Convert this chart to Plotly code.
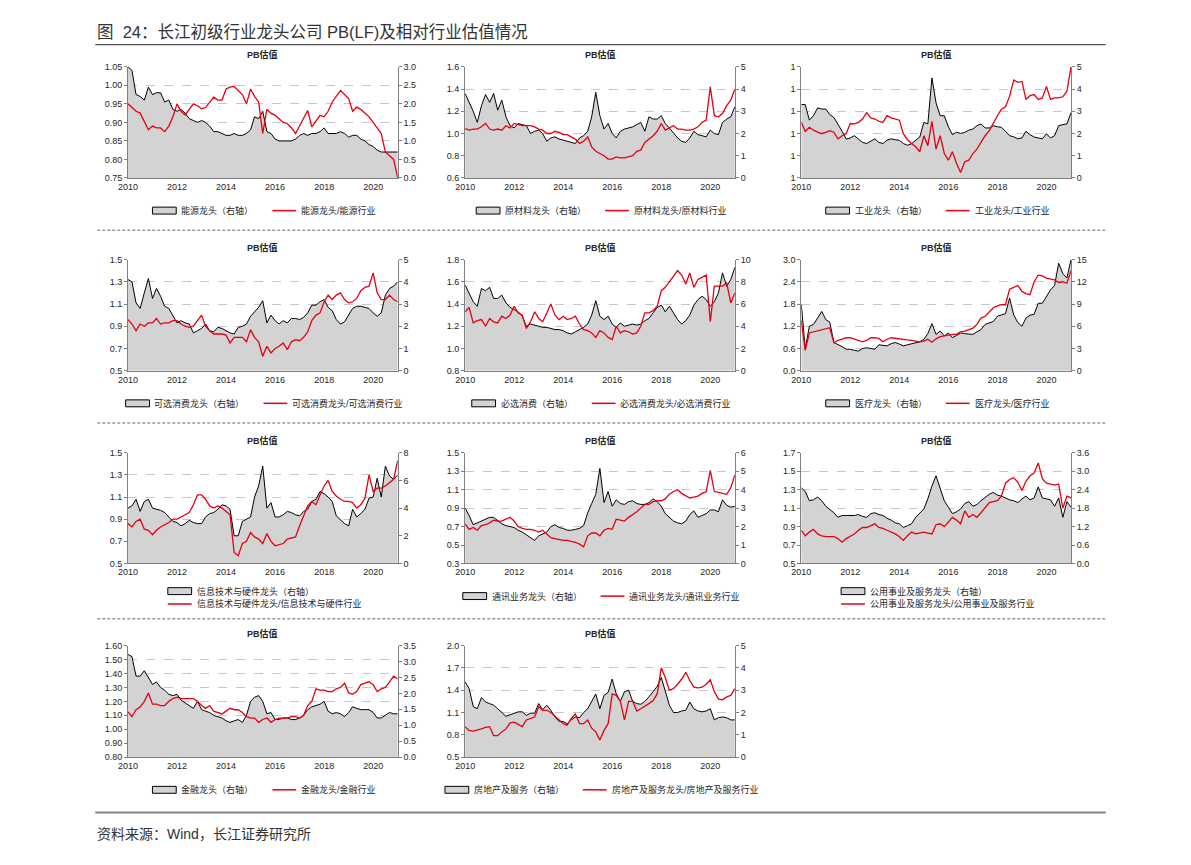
import plotly.graph_objects as go
import pandas as pd

W, H = 1191, 865
FONT = "Liberation Sans, Arial, Noto Sans CJK SC, sans-serif"

# ---------------- data (bi-monthly, 2010-01 .. 2021-01) ----------------
dates = pd.date_range("2010-01-01", periods=67, freq="2MS")
year_ticks = ["2010-01-01", "2012-01-01", "2014-01-01", "2016-01-01", "2018-01-01", "2020-01-01"]
year_labels = ["2010", "2012", "2014", "2016", "2018", "2020"]

# 1 能源
energy_leader = [3.0, 2.9, 2.25, 2.2, 2.1, 2.45,
                 2.25, 2.3, 2.3, 2.05, 2.1, 1.85,
                 1.8, 1.85, 1.75, 1.6, 1.55, 1.5,
                 1.55, 1.5, 1.4, 1.25, 1.25, 1.2,
                 1.15, 1.15, 1.2, 1.15, 1.15, 1.2,
                 1.3, 1.65, 1.6, 1.8, 1.25, 1.2,
                 1.05, 1.0, 1.0, 1.0, 1.0, 1.05,
                 1.15, 1.2, 1.15, 1.2, 1.2, 1.25,
                 1.35, 1.2, 1.2, 1.2, 1.25, 1.2,
                 1.1, 1.15, 1.15, 1.05, 1.0, 0.9,
                 0.85, 0.75, 0.7, 0.7, 0.7, 0.7,
                 0.7]
energy_rel = [0.95, 0.94, 0.93, 0.925, 0.9, 0.88,
              0.89, 0.885, 0.885, 0.875, 0.89, 0.915,
              0.95, 0.93, 0.92, 0.935, 0.95, 0.945,
              0.937, 0.94, 0.955, 0.968, 0.96, 0.96,
              0.99, 0.995, 0.997, 0.985, 0.975, 0.95,
              0.99, 0.97, 0.955, 0.87, 0.935, 0.925,
              0.919, 0.91, 0.9, 0.897, 0.885, 0.87,
              0.89, 0.91, 0.932, 0.888, 0.905, 0.919,
              0.915, 0.93, 0.955, 0.97, 0.986, 0.975,
              0.964, 0.93, 0.941, 0.935, 0.924, 0.915,
              0.9, 0.885, 0.87, 0.82, 0.81, 0.8,
              0.75]

# 2 原材料
materials_leader = [3.8, 3.4, 3.0, 2.5, 3.25, 3.75,
                    3.4, 3.8, 3.05, 3.5, 2.75, 2.35,
                    2.25, 2.45, 2.4, 2.35, 2.0, 2.1,
                    2.15, 2.0, 1.65, 1.8, 1.85, 1.75,
                    1.7, 1.65, 1.6, 1.55, 1.8, 1.9,
                    2.1, 2.75, 3.85, 2.8, 2.2, 2.45,
                    2.0, 1.8, 2.1, 2.2, 2.25, 2.3,
                    2.4, 2.5, 2.1, 2.75, 2.65, 2.65,
                    2.8, 2.45, 2.25, 2.0, 1.8, 1.65,
                    1.6, 1.8, 2.1, 1.95, 1.9, 1.85,
                    2.15, 2.0, 1.95, 2.5, 2.65, 2.75,
                    3.2]
materials_rel = [1.045, 1.03, 1.04, 1.04, 1.06, 1.09,
                 1.04, 1.03, 1.04, 1.03, 1.07, 1.05,
                 1.09, 1.08, 1.07, 1.07, 1.07, 1.06,
                 1.04, 1.03, 1.0, 1.0, 1.02, 1.01,
                 0.99, 0.99, 0.97, 0.95, 0.91, 0.93,
                 0.97, 0.88, 0.84, 0.82, 0.8, 0.77,
                 0.77, 0.79, 0.78, 0.78, 0.79, 0.8,
                 0.84, 0.85, 0.92, 0.95, 0.98, 1.02,
                 1.09, 1.03, 1.05, 1.07, 1.04, 1.04,
                 1.03, 1.03, 1.04, 1.06, 1.1, 1.12,
                 1.42, 1.16, 1.15, 1.18, 1.25, 1.3,
                 1.4]

# 3 工业
industrial_leader = [3.3, 3.3, 2.6, 2.8, 3.15, 3.1,
                     3.1, 2.85, 2.72, 2.43, 2.1, 1.75,
                     1.8, 1.9, 1.75, 1.6, 1.55, 1.65,
                     1.76, 1.6, 1.55, 1.7, 1.76, 1.72,
                     1.69, 1.55, 1.47, 1.54, 1.7, 1.84,
                     2.5, 2.43, 4.5, 3.38, 2.8, 2.8,
                     2.3, 1.95, 2.06, 2.0, 2.05, 2.15,
                     2.2, 2.35, 2.43, 2.25, 2.25, 2.35,
                     2.3, 2.28, 2.1, 1.9, 1.85, 1.76,
                     1.8, 2.1, 1.95, 1.84, 1.8, 1.76,
                     1.99, 1.8, 1.9, 2.35, 2.4, 2.43,
                     2.94]
industrial_rel = [2.5, 2.1, 2.28, 2.15, 2.06, 1.99,
                  2.05, 2.13, 2.06, 1.76, 1.9, 2.0,
                  2.45, 2.43, 2.5, 2.65, 2.94, 2.7,
                  2.65, 2.55, 2.5, 2.8, 2.7, 2.65,
                  2.6, 1.99, 1.72, 1.55, 1.4, 1.18,
                  1.9, 1.45, 2.55, 1.3, 1.9, 1.1,
                  0.8, 1.18, 0.66, 0.25, 0.73, 0.8,
                  1.1, 1.3, 1.6, 1.9, 2.13, 2.5,
                  2.8, 3.09, 3.2, 3.68, 4.41, 4.3,
                  4.34, 3.53, 3.7, 3.75, 3.53, 3.6,
                  4.12, 3.53, 3.6, 3.6, 3.65, 3.9,
                  5.0]

# 4 可选消费
discretionary_leader = [4.1, 4.0, 3.05, 2.8, 3.5, 4.15,
                        3.25, 3.7, 3.35, 2.9, 2.8, 2.5,
                        2.15, 2.25, 2.15, 2.1, 1.7, 1.8,
                        1.9, 2.1, 1.8, 1.75, 1.95, 1.9,
                        1.8, 1.7, 1.65, 1.95, 2.0, 2.1,
                        2.45, 2.65, 2.85, 3.15, 2.15, 2.5,
                        2.25, 2.1, 2.25, 2.15, 2.35, 2.35,
                        2.3, 2.4, 2.6, 2.95, 2.95, 3.1,
                        3.2, 2.85, 2.7, 2.3, 2.1, 2.2,
                        2.5, 2.8, 2.9, 2.9, 2.85, 2.8,
                        2.6, 2.45, 2.6, 3.4, 3.7, 3.8,
                        4.0]
discretionary_rel = [0.96, 0.92, 0.86, 0.92, 0.9, 0.93,
                     0.93, 0.97, 0.92, 0.93, 0.93, 0.95,
                     0.95, 0.92, 0.9, 0.89, 0.9, 0.95,
                     1.0, 0.9, 0.86, 0.83, 0.83, 0.83,
                     0.82, 0.75, 0.8, 0.8, 0.8, 0.76,
                     0.87, 0.8, 0.76, 0.63, 0.72, 0.66,
                     0.7, 0.72, 0.75, 0.69, 0.76, 0.78,
                     0.77, 0.8, 0.85, 0.95, 1.0, 1.02,
                     1.12, 1.18, 1.14, 1.18, 1.2, 1.14,
                     1.11, 1.12, 1.15, 1.22, 1.25, 1.26,
                     1.38, 1.2, 1.14, 1.14, 1.18, 1.14,
                     1.12]

# 5 必选消费
staples_leader = [7.7, 7.0, 6.2, 5.8, 7.4, 7.2,
                  7.5, 6.5, 6.5, 6.8, 6.1, 5.7,
                  5.5, 5.3, 4.9, 4.0, 4.2, 4.1,
                  4.0, 3.9, 3.9, 3.8, 3.7, 3.7,
                  3.6, 3.4, 3.3, 3.5, 3.7, 3.9,
                  4.2, 5.0, 6.3, 4.9, 4.6, 4.9,
                  4.2, 3.9, 4.3, 4.0, 4.1, 4.2,
                  4.1, 4.2, 4.5, 4.7, 5.2, 5.7,
                  5.9, 5.3, 5.8, 5.2, 4.6, 4.2,
                  4.5, 5.0, 5.9, 6.4, 6.7, 6.4,
                  5.8, 6.2, 7.0, 8.8, 7.6, 8.2,
                  9.3]
staples_rel = [1.33, 1.37, 1.23, 1.25, 1.26, 1.2,
               1.27, 1.24, 1.23, 1.29, 1.27, 1.3,
               1.38, 1.32, 1.3, 1.18, 1.24, 1.33,
               1.27, 1.24, 1.32, 1.4, 1.3, 1.26,
               1.29, 1.26, 1.27, 1.29, 1.22, 1.17,
               1.16, 1.14, 1.1, 1.16, 1.14, 1.1,
               1.08, 1.2, 1.14, 1.16, 1.15, 1.13,
               1.14, 1.2, 1.32, 1.32, 1.34, 1.38,
               1.52, 1.55, 1.6, 1.65, 1.7, 1.66,
               1.58, 1.68, 1.55, 1.62, 1.64, 1.66,
               1.24, 1.56, 1.56, 1.56, 1.59, 1.41,
               1.5]

# 6 医疗
health_leader = [8.9, 3.0, 6.0, 6.25, 7.1, 8.0,
                 6.9, 6.55, 3.8, 3.55, 3.25, 2.9,
                 2.9, 2.75, 2.65, 3.0, 3.1, 3.0,
                 2.9, 3.5, 3.45, 3.35, 3.65, 3.8,
                 3.6, 3.35, 3.5, 3.6, 3.8, 3.9,
                 4.25, 5.0, 6.35, 4.9, 5.35, 4.7,
                 5.1, 4.45, 4.75, 5.1, 5.0, 4.9,
                 4.9, 5.25, 5.55, 6.25, 6.5, 6.65,
                 7.35, 7.55, 7.7, 9.8, 7.5, 6.5,
                 6.0, 7.1, 7.5, 7.6, 9.1, 9.1,
                 10.0, 10.9, 11.5, 14.5, 13.1, 12.5,
                 15.0]
health_rel = [1.35, 0.55, 1.02, 1.05, 1.08, 1.12,
              1.13, 1.16, 0.76, 0.82, 0.85, 0.89,
              0.89, 0.86, 0.83, 0.78, 0.82, 0.89,
              0.89, 0.87, 0.78, 0.85, 0.89, 0.87,
              0.85, 0.84, 0.83, 0.82, 0.8, 0.78,
              0.8, 0.85, 0.77, 0.86, 0.92, 0.94,
              0.98, 0.98, 0.98, 1.05, 1.07, 1.1,
              1.15, 1.25, 1.42, 1.47, 1.6, 1.7,
              1.75, 1.78, 1.78, 2.2, 2.25, 2.3,
              2.14, 2.08, 2.05, 2.4, 2.58, 2.56,
              2.5, 2.48, 2.45, 2.38, 2.4, 2.36,
              2.7]

# 7 信息技术与硬件
it_leader = [4.0, 4.16, 4.64, 3.76, 4.48, 4.64,
             4.0, 3.92, 3.84, 3.68, 3.36, 3.04,
             2.96, 2.72, 2.88, 3.12, 2.96, 2.88,
             2.88, 3.36, 3.6, 3.68, 3.92, 4.24,
             4.16, 3.92, 2.0, 2.0, 3.04, 3.2,
             3.36, 4.8, 5.6, 7.04, 4.0, 4.4,
             3.36, 3.36, 3.52, 3.76, 3.68, 3.52,
             3.44, 3.76, 3.92, 4.48, 4.64, 5.2,
             5.04, 4.8, 4.48, 3.44, 3.12, 2.88,
             2.72, 3.92, 3.36, 3.6, 3.92, 4.72,
             4.8, 6.16, 4.8, 7.04, 6.32, 6.08,
             6.4]
it_rel = [0.86, 0.83, 0.88, 0.9, 0.81, 0.8,
          0.76, 0.8, 0.83, 0.85, 0.87, 0.9,
          0.9, 0.92, 0.94, 0.96, 1.03, 1.12,
          1.12, 1.08, 1.02, 1.0, 1.02, 1.0,
          0.97, 0.94, 0.6, 0.57, 0.68, 0.7,
          0.78, 0.74, 0.72, 0.68, 0.77, 0.7,
          0.66, 0.67, 0.68, 0.72, 0.73, 0.74,
          0.84, 0.93, 1.02, 1.06, 1.03, 1.12,
          1.2, 1.25, 1.15, 1.11, 1.08, 1.06,
          1.06, 1.05, 1.0, 1.03, 1.09, 1.3,
          1.15, 1.18, 1.18, 1.2, 1.23, 1.26,
          1.43]

# 8 通讯业务
telecom_leader = [3.0, 2.6, 2.1, 2.2, 2.3, 2.4,
                  2.5, 2.5, 2.3, 2.15, 2.05, 2.0,
                  1.95, 1.8, 1.7, 1.55, 1.4, 1.25,
                  1.5, 1.6, 1.7, 2.0, 2.1, 1.95,
                  1.9, 1.8, 1.8, 1.85, 1.9, 2.05,
                  2.75, 3.25, 3.75, 5.15, 3.3, 3.9,
                  3.1, 3.45, 3.25, 3.2, 3.35, 3.4,
                  3.25, 3.2, 3.2, 3.3, 3.5, 3.35,
                  3.1, 2.7, 2.5, 2.3, 2.2, 2.15,
                  2.3, 2.65, 2.85, 2.5, 2.6, 2.7,
                  2.9, 2.9, 2.8, 3.45, 3.15, 3.05,
                  3.1]
telecom_rel = [0.73, 0.67, 0.69, 0.66, 0.71, 0.72,
               0.74, 0.77, 0.76, 0.76, 0.78, 0.8,
               0.76, 0.7, 0.68, 0.67, 0.67, 0.66,
               0.64, 0.66, 0.62, 0.58, 0.57, 0.56,
               0.55, 0.55, 0.54, 0.53, 0.51, 0.48,
               0.6, 0.63, 0.63, 0.6, 0.66, 0.68,
               0.67, 0.78, 0.77, 0.76, 0.8, 0.83,
               0.86, 0.9, 0.94, 0.94, 0.97, 0.98,
               0.98, 1.0, 1.05, 1.08, 1.1, 1.06,
               1.03, 1.01, 1.02, 1.03, 1.06, 1.08,
               1.31, 1.08, 1.07, 1.06, 1.05, 1.12,
               1.26]

# 9 公用事业及服务
utility_leader = [2.46, 2.34, 2.04, 2.07, 2.16, 2.04,
                  1.86, 1.77, 1.65, 1.5, 1.56, 1.56,
                  1.56, 1.56, 1.59, 1.53, 1.5, 1.62,
                  1.65, 1.59, 1.56, 1.47, 1.41, 1.32,
                  1.29, 1.17, 1.23, 1.29, 1.5, 1.65,
                  1.77, 2.1, 2.52, 2.85, 2.46, 2.04,
                  1.83, 1.62, 1.68, 1.77, 1.95, 2.01,
                  1.86, 1.92, 2.04, 2.13, 2.25, 2.31,
                  2.22, 2.19, 2.13, 2.07, 2.04, 1.98,
                  2.1, 2.19, 2.07, 2.13, 2.49, 2.13,
                  2.1, 2.07, 1.86, 2.13, 1.5, 2.01,
                  1.83]
utility_rel = [0.86, 0.8, 0.84, 0.87, 0.82, 0.8,
               0.79, 0.79, 0.79, 0.77, 0.73, 0.77,
               0.8, 0.82, 0.86, 0.89, 0.89, 0.91,
               0.93, 0.89, 0.88, 0.86, 0.84, 0.82,
               0.79, 0.75, 0.8, 0.84, 0.82, 0.83,
               0.84, 0.83, 0.82, 0.92, 0.93, 0.9,
               0.95, 1.0, 0.97, 0.93, 1.07, 1.0,
               1.03, 1.0, 1.05, 1.11, 1.16, 1.17,
               1.18, 1.23, 1.37, 1.41, 1.43, 1.38,
               1.29, 1.39, 1.45, 1.48, 1.59, 1.42,
               1.37, 1.36, 1.35, 1.36, 1.1, 1.23,
               1.21]

# 10 金融
finance_leader = [3.22, 3.15, 2.54, 2.54, 2.71, 2.49,
                  2.28, 2.36, 2.19, 2.1, 1.97, 1.93,
                  1.97, 1.79, 1.71, 1.62, 1.53, 1.75,
                  1.49, 1.44, 1.4, 1.31, 1.27, 1.23,
                  1.14, 1.09, 1.14, 1.18, 1.09, 1.31,
                  1.75, 1.88, 1.93, 1.75, 1.36, 1.4,
                  1.18, 1.18, 1.23, 1.23, 1.18, 1.18,
                  1.23, 1.31, 1.49, 1.58, 1.62, 1.66,
                  1.75, 1.44, 1.36, 1.4, 1.36, 1.27,
                  1.4, 1.58, 1.53, 1.49, 1.49, 1.49,
                  1.4, 1.23, 1.23, 1.31, 1.4, 1.36,
                  1.36]
finance_rel = [1.125, 1.09, 1.14, 1.16, 1.2, 1.26,
               1.18, 1.18, 1.17, 1.17, 1.2, 1.22,
               1.23, 1.22, 1.22, 1.22, 1.22, 1.2,
               1.17, 1.15, 1.17, 1.13, 1.12, 1.11,
               1.13, 1.15, 1.14, 1.14, 1.12, 1.09,
               1.08, 1.08, 1.05, 1.07, 1.08, 1.05,
               1.07, 1.08, 1.08, 1.08, 1.09, 1.09,
               1.08, 1.1, 1.17, 1.2, 1.29, 1.28,
               1.28, 1.27, 1.27, 1.29, 1.3, 1.33,
               1.26, 1.25, 1.27, 1.32, 1.33, 1.34,
               1.32, 1.27, 1.29, 1.3, 1.34, 1.38,
               1.36]

# 11 房地产及服务
realestate_leader = [3.37, 3.07, 2.27, 2.17, 2.67, 2.47,
                     2.4, 2.33, 2.17, 2.0, 1.83, 1.9,
                     1.97, 2.03, 2.03, 1.87, 1.97, 1.97,
                     2.4, 2.13, 2.33, 2.1, 1.8, 1.6,
                     1.6, 1.5, 1.67, 1.8, 1.77, 2.0,
                     2.17, 2.47, 2.83, 2.17, 2.77, 2.9,
                     3.5, 2.83, 2.5, 2.93, 3.0, 2.5,
                     2.4, 2.37, 2.5, 2.7, 2.93, 3.17,
                     3.57, 3.0, 2.33, 2.0, 2.0, 2.07,
                     2.1, 2.47, 2.17, 2.07, 2.03, 2.07,
                     2.17, 1.67, 1.77, 1.8, 1.77, 1.67,
                     1.67]
realestate_rel = [0.91, 0.86, 0.85, 0.86, 0.88, 0.9,
                  0.91, 0.79, 0.79, 0.84, 0.88, 0.96,
                  0.97, 0.94, 0.91, 1.0, 1.02, 1.04,
                  1.18, 1.13, 1.13, 1.1, 1.05, 1.0,
                  0.95, 0.93, 1.02, 1.08, 0.95, 0.95,
                  1.0, 0.89, 0.84, 0.73, 0.86, 0.95,
                  1.35, 1.33, 1.25, 1.0, 1.25, 1.25,
                  1.12, 1.15, 1.18, 1.22, 1.26, 1.35,
                  1.7, 1.57, 1.4, 1.42, 1.48, 1.55,
                  1.64, 1.53, 1.44, 1.43, 1.44, 1.48,
                  1.54, 1.38, 1.28, 1.27, 1.31, 1.33,
                  1.42]

# axis tick labels (left = relative ratio, right = leader PB)
p1_left = ["0.75", "0.80", "0.85", "0.90", "0.95", "1.00", "1.05"]
p1_right = ["0.0", "0.5", "1.0", "1.5", "2.0", "2.5", "3.0"]
p2_left = ["0.6", "0.8", "1.0", "1.2", "1.4", "1.6"]
p2_right = ["0", "1", "2", "3", "4", "5"]
p3_left_vals = [0, 1, 2, 3, 4, 5]
p3_left = ["1", "1", "1", "1", "1", "1"]
p3_right = ["0", "1", "2", "3", "4", "5"]
p4_left = ["0.5", "0.7", "0.9", "1.1", "1.3", "1.5"]
p4_right = ["0", "1", "2", "3", "4", "5"]
p5_left = ["0.8", "1.0", "1.2", "1.4", "1.6", "1.8"]
p5_right = ["0", "2", "4", "6", "8", "10"]
p6_left = ["0.0", "0.6", "1.2", "1.8", "2.4", "3.0"]
p6_right = ["0", "3", "6", "9", "12", "15"]
p7_left = ["0.5", "0.7", "0.9", "1.1", "1.3", "1.5"]
p7_right = ["0", "2", "4", "6", "8"]
p8_left = ["0.3", "0.5", "0.7", "0.9", "1.1", "1.3", "1.5"]
p8_right = ["0", "1", "2", "3", "4", "5", "6"]
p9_left = ["0.5", "0.7", "0.9", "1.1", "1.3", "1.5", "1.7"]
p9_right = ["0.0", "0.6", "1.2", "1.8", "2.4", "3.0", "3.6"]
p10_left = ["0.80", "0.90", "1.00", "1.10", "1.20", "1.30", "1.40", "1.50", "1.60"]
p10_right = ["0.0", "0.5", "1.0", "1.5", "2.0", "2.5", "3.0", "3.5"]
p11_left = ["0.5", "0.8", "1.1", "1.4", "1.7", "2.0"]
p11_right = ["0", "1", "2", "3", "4", "5"]

panels = [
    dict(leader=energy_leader, rel=energy_rel, lt=p1_left, rt=p1_right,
         n1="能源龙头（右轴）", n2="能源龙头/能源行业"),
    dict(leader=materials_leader, rel=materials_rel, lt=p2_left, rt=p2_right,
         n1="原材料龙头（右轴）", n2="原材料龙头/原材料行业"),
    dict(leader=industrial_leader, rel=industrial_rel, lt=p3_left, lv=p3_left_vals, rt=p3_right,
         n1="工业龙头（右轴）", n2="工业龙头/工业行业"),
    dict(leader=discretionary_leader, rel=discretionary_rel, lt=p4_left, rt=p4_right,
         n1="可选消费龙头（右轴）", n2="可选消费龙头/可选消费行业"),
    dict(leader=staples_leader, rel=staples_rel, lt=p5_left, rt=p5_right,
         n1="必选消费（右轴）", n2="必选消费龙头/必选消费行业"),
    dict(leader=health_leader, rel=health_rel, lt=p6_left, rt=p6_right,
         n1="医疗龙头（右轴）", n2="医疗龙头/医疗行业"),
    dict(leader=it_leader, rel=it_rel, lt=p7_left, rt=p7_right,
         n1="信息技术与硬件龙头（右轴）", n2="信息技术与硬件龙头/信息技术与硬件行业", two=True),
    dict(leader=telecom_leader, rel=telecom_rel, lt=p8_left, rt=p8_right,
         n1="通讯业务龙头（右轴）", n2="通讯业务龙头/通讯业务行业"),
    dict(leader=utility_leader, rel=utility_rel, lt=p9_left, rt=p9_right,
         n1="公用事业及服务龙头（右轴）", n2="公用事业及服务龙头/公用事业及服务行业", two=True),
    dict(leader=finance_leader, rel=finance_rel, lt=p10_left, rt=p10_right,
         n1="金融龙头（右轴）", n2="金融龙头/金融行业"),
    dict(leader=realestate_leader, rel=realestate_rel, lt=p11_left, rt=p11_right,
         n1="房地产及服务（右轴）", n2="房地产及服务龙头/房地产及服务行业"),
]

# ---------------- layout geometry (pixels) ----------------
cols = [(119, 391), (459, 731), (798, 1070)]
rows = [(62.5, 175), (257.5, 370), (453, 565), (648, 761)]
GRAY_FILL = "#d3d3d3"
RED = "#e60012"
AXIS = "#7f7f7f"
TXT = "#262626"


def px(x):
    return x / W


def py(y):
    return 1 - y / H


def tw(s, fs=9):
    return sum(fs if ord(ch) > 0x2000 else fs * 0.3 for ch in s)


fig = go.Figure()
layout = dict(width=W, height=H, margin=dict(l=0, r=0, t=0, b=0),
              paper_bgcolor="white", plot_bgcolor="white", showlegend=False,
              font=dict(family=FONT, size=9, color=TXT))
shapes = []
annotations = []
tickfont = dict(family=FONT, size=9, color=TXT)

for i, p in enumerate(panels):
    r, c = divmod(i, 3)
    x0, x1 = cols[c]
    yt, yb = rows[r]
    k = i + 1
    xname = "x" if k == 1 else f"x{k}"
    xkey = "xaxis" if k == 1 else f"xaxis{k}"
    bn, on = 2 * k - 1, 2 * k
    bname = "y" if bn == 1 else f"y{bn}"
    bkey = "yaxis" if bn == 1 else f"yaxis{bn}"
    oname, okey = f"y{on}", f"yaxis{on}"

    fig.add_trace(go.Scatter(x=dates, y=p["leader"], xaxis=xname, yaxis=bname, mode="lines",
                             line=dict(color="#000000", width=1), fill="tozeroy",
                             fillcolor=GRAY_FILL, name=p["n1"], hoverinfo="skip"))
    fig.add_trace(go.Scatter(x=dates, y=p["rel"], xaxis=xname, yaxis=oname, mode="lines",
                             line=dict(color=RED, width=1.3), name=p["n2"]))

    rv = [float(v) for v in p["rt"]]
    lv = p.get("lv") or [float(v) for v in p["lt"]]

    layout[xkey] = dict(domain=[px(x0), px(x1)], anchor=bname, type="date",
                        range=["2010-01-01", "2021-01-01"], tickvals=year_ticks,
                        ticktext=year_labels, showline=True, linecolor=AXIS, linewidth=1,
                        ticks="", showgrid=False, zeroline=False, tickfont=tickfont)
    layout[bkey] = dict(domain=[py(yb), py(yt)], anchor=xname, side="right",
                        range=[rv[0], rv[-1]], tickvals=rv, ticktext=p["rt"],
                        showline=True, linecolor=AXIS, linewidth=1, ticks="outside",
                        ticklen=3, tickcolor=AXIS, showgrid=False, zeroline=False,
                        tickfont=tickfont)
    layout[okey] = dict(overlaying=bname, anchor=xname, side="left",
                        range=[lv[0], lv[-1]], tickvals=lv, ticktext=p["lt"],
                        showline=True, linecolor=AXIS, linewidth=1, ticks="outside",
                        ticklen=3, tickcolor=AXIS, showgrid=True, gridcolor="#c8c8c8",
                        griddash="dash", gridwidth=1, zeroline=False, tickfont=tickfont)

    cx = (x0 + x1) / 2
    annotations.append(dict(x=px(cx), y=py(yt - 12.5), xref="paper", yref="paper",
                            text="<b>PB估值</b>", showarrow=False, xanchor="center",
                            yanchor="middle", font=dict(family=FONT, size=9, color=TXT)))

    # legend
    ly = yb + 33
    t1, t2 = tw(p["n1"]), tw(p["n2"])
    if p.get("two"):
        block = 24 + 3 + max(t1, t2)
        sx = cx - block / 2
        items = [(sx, ly - 5, "box", p["n1"]), (sx, ly + 8, "line", p["n2"])]
    else:
        total = 24 + 3 + t1 + 22 + 24 + 3 + t2
        sx = cx - total / 2
        items = [(sx, ly, "box", p["n1"]), (sx + 24 + 3 + t1 + 22, ly, "line", p["n2"])]
    for (ix, iy, kind, label) in items:
        if kind == "box":
            shapes.append(dict(type="rect", xref="paper", yref="paper",
                               x0=px(ix), x1=px(ix + 24), y0=py(iy + 3.5), y1=py(iy - 3.5),
                               fillcolor=GRAY_FILL, line=dict(color="#000000", width=1)))
        else:
            shapes.append(dict(type="line", xref="paper", yref="paper",
                               x0=px(ix), x1=px(ix + 24), y0=py(iy), y1=py(iy),
                               line=dict(color=RED, width=1.5)))
        annotations.append(dict(x=px(ix + 27), y=py(iy), xref="paper", yref="paper",
                                text=label, showarrow=False, xanchor="left", yanchor="middle",
                                font=dict(family=FONT, size=9, color=TXT)))

# page title, separators, source
annotations.append(dict(x=px(86), y=py(27), xref="paper", yref="paper",
                        text="图  24：长江初级行业龙头公司 PB(LF)及相对行业估值情况",
                        showarrow=False, xanchor="left", yanchor="middle",
                        font=dict(family=FONT, size=16.5, color="#333333")))
shapes.append(dict(type="line", xref="paper", yref="paper", x0=px(86), x1=px(1105),
                   y0=py(40), y1=py(40), line=dict(color="#555555", width=1.2)))
for sy in (228, 423, 621):
    shapes.append(dict(type="line", xref="paper", yref="paper", x0=px(88), x1=px(1105),
                       y0=py(sy), y1=py(sy), line=dict(color="#999999", width=1.5, dash="3px,2px")))
shapes.append(dict(type="line", xref="paper", yref="paper", x0=px(86), x1=px(1105),
                   y0=py(817), y1=py(817), line=dict(color="#808080", width=2)))
annotations.append(dict(x=px(86), y=py(839), xref="paper", yref="paper",
                        text="资料来源：Wind，长江证券研究所", showarrow=False,
                        xanchor="left", yanchor="middle",
                        font=dict(family=FONT, size=14, color="#333333")))

layout["shapes"] = shapes
layout["annotations"] = annotations
fig.update_layout(**layout)
fig.write_html("out.html")
